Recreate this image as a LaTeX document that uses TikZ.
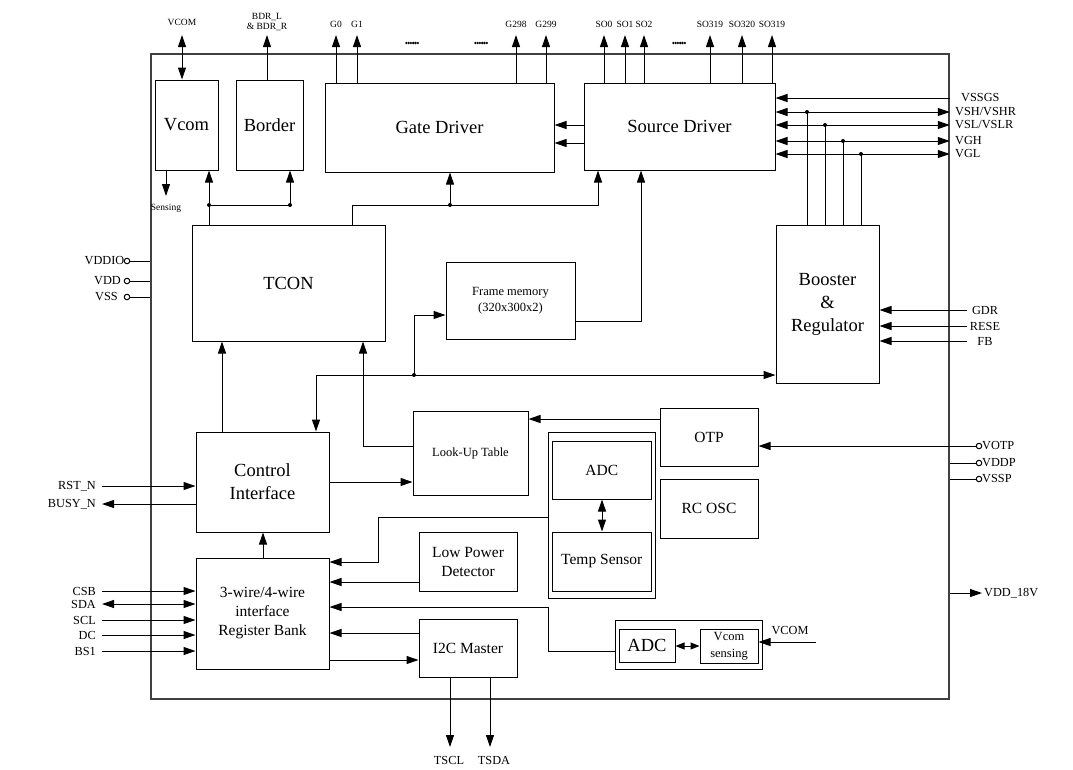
\documentclass[tikz,border=0pt]{standalone}
\usepackage{fontspec}
\setmainfont{Liberation Serif}
\usetikzlibrary{arrows.meta}
\newcommand\fA{\fontsize{18.5}{23}\selectfont}
\newcommand\fB{\fontsize{15.5}{19}\selectfont}
\newcommand\fC{\fontsize{12.5}{16.5}\selectfont}
\newcommand\fD{\fontsize{9.5}{11.5}\selectfont}
\newcommand\fP{\fontsize{12.3}{14}\selectfont}
\tikzset{
 box/.style={draw, line width=1pt, inner sep=0pt, align=center},
 arr/.style={line width=1pt, -{Triangle[length=12pt,width=8pt]}},
 darr/.style={line width=1pt, {Triangle[length=12pt,width=8pt]}-{Triangle[length=12pt,width=8pt]}},
 sdarr/.style={line width=1pt, {Triangle[length=9pt,width=7pt]}-{Triangle[length=9pt,width=7pt]}},
 ln/.style={line width=1pt},
 pinc/.style={circle, draw, line width=1pt, fill=white, inner sep=0pt, minimum size=5.5pt},
 lbl/.style={inner sep=0pt, font=\fP},
 tlbl/.style={inner sep=0pt, font=\fD, align=center},
}
\newcommand\blk[7]{\node[box, font=#7, minimum width={(#4-#2)*1pt}, minimum height={(#5-#3)*1pt}] (#1) at ({(#2+#4)/2},{(#3+#5)/2}) {#6};}
\begin{document}
\begin{tikzpicture}[x=1pt,y=-1pt]
\useasboundingbox (0,0) rectangle (1073,769);
% chip outline
\node[draw, line width=1.5pt, draw=black!75, minimum width=798pt, minimum height=645pt, inner sep=0pt] (chip) at (550,376.5) {};
% blocks
\blk{vcom}{155}{80}{218}{170}{Vcom}{\fA}
\blk{border}{236}{80}{303}{170}{Border}{\fA}
\blk{gate}{325}{83}{554}{172}{Gate Driver}{\fA}
\blk{source}{584}{83}{775}{170}{Source Driver}{\fA}
\blk{tcon}{192}{225}{385}{341}{TCON}{\fA}
\blk{fmem}{446}{262}{575}{339}{Frame memory\\(320x300x2)}{\fC}
\blk{boost}{776}{225}{879}{383}{Booster\\\&\\Regulator}{\fA}
\blk{ctrl}{196}{432}{329}{532}{Control\\Interface}{\fA}
\blk{lut}{413}{411}{528}{495}{Look-Up Table}{\fC}
\blk{otp}{660}{408}{758}{466}{OTP}{\fB}
\blk{rcosc}{660}{479}{758}{538}{RC OSC}{\fB}
\blk{tsout}{548}{432}{655}{598}{}{\fB}
\blk{adcA}{552.5}{441}{651}{499}{ADC}{\fB}
\blk{temp}{552.5}{532}{651}{591}{Temp Sensor}{\fB}
\blk{lpd}{419}{532}{517}{591}{Low Power\\Detector}{\fB}
\blk{reg}{196}{558}{329}{669}{3-wire/4-wire\\interface\\Register Bank}{\fB}
\blk{i2c}{419}{619}{517}{677}{I2C Master}{\fB}
\blk{vsout}{615}{620}{762}{669}{}{\fB}
\blk{adcB}{619}{629}{675}{662}{ADC}{\fA}
\blk{vsen}{700}{629}{758}{663}{Vcom\\sensing}{\fC}

% ---- top pins ----
\coordinate (pVCOM) at (182,35);
\draw[darr] (pVCOM) -- (vcom.north -| pVCOM);
\node[tlbl] (tVCOM) at (182,22) {VCOM};
\coordinate (pBDR) at (267,35);
\draw[arr] (border.north -| pBDR) -- (pBDR);
\node[tlbl] (tBDR) at (267,22) {BDR\_L\\[-2pt]\& BDR\_R};
\foreach \x/\t in {336/G0,357/G1,516/G298,546/G299}{
  \coordinate (pG\t) at (\x,35);
  \draw[arr] (gate.north -| pG\t) -- (pG\t);
  \node[tlbl] at (\x,24) {\t};
}
\foreach \x/\t/\n in {604/SO0/a,625/SO1/b,644/SO2/c,710/SO319/d,742/SO320/e,772/SO319/f}{
  \coordinate (pS\n) at (\x,35);
  \draw[arr] (source.north -| pS\n) -- (pS\n);
  \node[tlbl] at (\x,24) {\t};
}
\foreach \cx in {412,481,679}{
  \foreach \i in {0,...,5} \fill ({\cx-5.7+\i*2.3},43) circle (1.3pt);
}

% ---- Vcom / Border / drivers ----
\coordinate (pSens) at (166,196);
\draw[arr] (vcom.south -| pSens) -- (pSens);
\node[tlbl] (tSens) at (166,208) {Sensing};
\draw[arr] (tcon.north -| 209,0) -- (vcom.south -| 209,0);
\draw[arr] (209,205) -- (290,205) -- (border.south -| 290,0);
\fill (209,205) circle (2pt) (290,205) circle (2pt);
\draw[arr] (tcon.north -| 352,0) -- (352,205) -- (598,205) -- (source.south -| 598,0);
\draw[arr] (450,205) -- (gate.south -| 450,0);
\fill (450,205) circle (2pt);
\draw[arr] (source.west |- 0,125) -- (gate.east |- 0,125);
\draw[arr] (source.west |- 0,143) -- (gate.east |- 0,143);
\draw[arr] (fmem.east |- 0,321) -- (641,321) -- (source.south -| 641,0);

% ---- right side supply pins ----
\coordinate (pVSSGS) at (chip.east |- 0,98);
\draw[arr] (pVSSGS) -- (source.east |- pVSSGS);
\node[lbl, anchor=west] at (961,98) {VSSGS};
\foreach \y/\t/\x in {112/VSH\slash VSHR/807,125/VSL\slash VSLR/825,141/VGH/843,154/VGL/861}{
  \draw[darr] (source.east |- 0,\y) -- (chip.east |- 0,\y);
  \node[lbl, anchor=west] at (955,\y) {\t};
  \draw[ln] (\x,\y) -- (boost.north -| \x,0);
  \fill (\x,\y) circle (2pt);
}
\foreach \y/\t in {310/GDR,326/RESE,341/FB}{
  \coordinate (p\t) at (967,\y);
  \draw[arr] (p\t) -- (boost.east |- p\t);
  \node[lbl] at (985,\y) {\t};
}

% ---- bus to booster / control / frame memory ----
\draw[arr] (414,375) -- (boost.west |- 0,375);
\draw[arr] (414,375) -- (316,375) -- (ctrl.north -| 316,0);
\draw[arr] (414,375) -- (414,315) -- (fmem.west |- 0,315);
\fill (414,375) circle (2pt);
\draw[arr] (ctrl.north -| 222,0) -- (tcon.south -| 222,0);
\draw[arr] (lut.west |- 0,446) -- (363,446) -- (tcon.south -| 363,0);
\draw[arr] (ctrl.east |- 0,482) -- (lut.west |- 0,482);
\draw[arr] (otp.west |- 0,419) -- (lut.east |- 0,419);

% ---- left supply pins ----
\foreach \y/\t/\n/\ex in {261/VDDIO/a/124.5,281/VDD/b/121,297/VSS/c/118}{
  \node[pinc] (cL\n) at (127,\y) {};
  \draw[ln] (cL\n) -- (chip.west |- cL\n);
  \node[lbl, anchor=east] at (\ex,\y) {\t};
}

% ---- control pins ----
\coordinate (pRST) at (102,486);
\draw[arr] (pRST) -- (ctrl.west |- pRST);
\node[lbl, anchor=east] at (96,486) {RST\_N};
\coordinate (pBUSY) at (102,504);
\draw[arr] (ctrl.west |- pBUSY) -- (pBUSY);
\node[lbl, anchor=east] at (96,504) {BUSY\_N};
\foreach \y/\t in {591/CSB,620/SCL,635/DC,651/BS1}{
  \coordinate (p\t) at (102,\y);
  \draw[arr] (p\t) -- (reg.west |- p\t);
  \node[lbl, anchor=east] at (96,\y) {\t};
}
\coordinate (pSDA) at (102,604);
\draw[darr] (pSDA) -- (reg.west |- pSDA);
\node[lbl, anchor=east] at (96,604) {SDA};

% ---- register bank connections ----
\draw[arr] (reg.north -| 263,0) -- (ctrl.south -| 263,0);
\draw[arr] (tsout.west |- 0,517) -- (378,517) -- (378,562) -- (reg.east |- 0,562);
\draw[arr] (lpd.west |- 0,582) -- (reg.east |- 0,582);
\draw[arr] (vsout.west |- 0,651) -- (548,651) -- (548,607) -- (reg.east |- 0,607);
\draw[arr] (i2c.west |- 0,633) -- (reg.east |- 0,633);
\draw[arr] (reg.east |- 0,660) -- (i2c.west |- 0,660);
\coordinate (pTSCL) at (450,747);
\coordinate (pTSDA) at (490,747);
\draw[arr] (i2c.south -| pTSCL) -- (pTSCL);
\draw[arr] (i2c.south -| pTSDA) -- (pTSDA);
\node[lbl] at (449,760) {TSCL};
\node[lbl] at (494,760) {TSDA};

% ---- ADC / temp / vcom sensing ----
\draw[darr] (adcA.south -| 602,0) -- (temp.north -| 602,0);
\draw[sdarr] (adcB.east |- 0,646) -- (vsen.west |- 0,646);
\coordinate (pVCOM2) at (816,642);
\draw[arr] (pVCOM2) -- (vsen.east |- pVCOM2);
\node[lbl] at (790,631) {VCOM};

% ---- OTP pins ----
\node[pinc] (cVOTP) at (979,446) {};
\draw[arr] (cVOTP) -- (otp.east |- cVOTP);
\node[pinc] (cVDDP) at (979,463) {};
\draw[ln] (chip.east |- cVDDP) -- (cVDDP);
\node[pinc] (cVSSP) at (979,479) {};
\draw[ln] (chip.east |- cVSSP) -- (cVSSP);
\node[lbl, anchor=west] at (982,446) {VOTP};
\node[lbl, anchor=west] at (982,463) {VDDP};
\node[lbl, anchor=west] at (982,479) {VSSP};
\coordinate (pV18) at (982,593);
\draw[arr] (chip.east |- pV18) -- (pV18);
\node[lbl, anchor=west] at (984,593) {VDD\_18V};
\end{tikzpicture}
\end{document}
